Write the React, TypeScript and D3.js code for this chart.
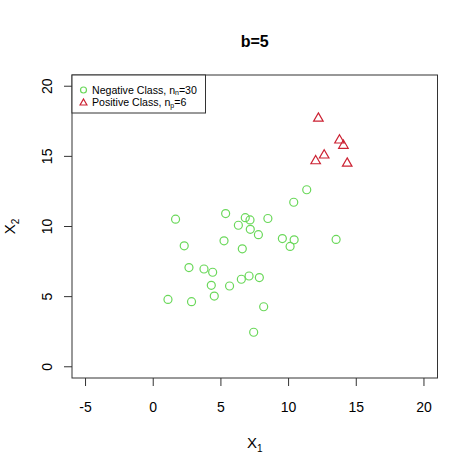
import React from "react";
import * as d3 from "d3";

const negX = [1.65, 5.35, 6.80, 7.15, 8.47, 6.29, 7.17, 7.77, 9.54, 10.11, 2.29, 5.23, 6.58, 2.64, 3.75, 4.39, 4.29, 5.64, 6.51, 7.08, 7.84, 1.09, 2.83, 4.51, 8.16, 7.42, 10.41, 11.34, 10.38, 13.51];
const negY = [10.52, 10.92, 10.63, 10.47, 10.57, 10.09, 9.80, 9.42, 9.14, 8.58, 8.62, 8.98, 8.41, 7.07, 6.97, 6.74, 5.81, 5.76, 6.24, 6.47, 6.36, 4.80, 4.64, 5.04, 4.28, 2.46, 9.05, 12.62, 11.73, 9.08];
const posX = [12.20, 13.76, 14.05, 12.63, 12.00, 14.33];
const posY = [17.71, 16.15, 15.77, 15.08, 14.67, 14.50];
const xTicks = [-5, 0, 5, 10, 15, 20];
const yTicks = [0, 5, 10, 15, 20];

const W = 474, H = 474;
const left = 72, right = 437.5, top = 75, bottom = 378;
const green = "#6ad85a";
const red = "#cc2233";

export default function App() {
  const x = d3.scaleLinear().domain([-6, 21]).range([left, right]);
  const y = d3.scaleLinear().domain([-0.8, 20.8]).range([bottom, top]);
  const r = 4;
  const tri = (cx: number, cy: number, s: number) => {
    const rr = s * 1.1;
    const xc = rr * Math.sqrt(3) / 2;
    const yc = rr / 2;
    return `M${cx},${cy - rr}L${cx + xc},${cy + yc}L${cx - xc},${cy + yc}Z`;
  };
  const font = "Liberation Sans, Arial, sans-serif";
  return (
    <svg width={W} height={H} style={{ position: "absolute", left: 0, top: 0 }} fontFamily={font}>
      <rect width={W} height={H} fill="white" />
      <text x={(left + right) / 2} y={47} textAnchor="middle" fontWeight="bold" fontSize={16}>b=5</text>
      <rect x={left} y={top} width={right - left} height={bottom - top} fill="none" stroke="#333" strokeWidth={1} />
      {xTicks.map((t) => (
        <g key={"x" + t}>
          <line x1={x(t)} x2={x(t)} y1={bottom} y2={bottom + 8} stroke="#333" />
          <text x={x(t)} y={bottom + 34} textAnchor="middle" fontSize={14}>{t}</text>
        </g>
      ))}
      {yTicks.map((t) => (
        <g key={"y" + t}>
          <line x1={left} x2={left - 8} y1={y(t)} y2={y(t)} stroke="#333" />
          <text transform={`translate(${left - 20},${y(t)}) rotate(-90)`} textAnchor="middle" fontSize={14}>{t}</text>
        </g>
      ))}
      <text x={(left + right) / 2} y={448} textAnchor="middle" fontSize={15}>
        X<tspan fontSize={10} dy={4}>1</tspan>
      </text>
      <text transform={`translate(15,${(top + bottom) / 2}) rotate(-90)`} textAnchor="middle" fontSize={15}>
        X<tspan fontSize={10} dy={4}>2</tspan>
      </text>
      {negX.map((v, i) => (
        <circle key={"n" + i} cx={x(v)} cy={y(negY[i])} r={r} fill="none" stroke={green} strokeWidth={1.2} />
      ))}
      {posX.map((v, i) => (
        <path key={"p" + i} d={tri(x(v), y(posY[i]), 5)} fill="none" stroke={red} strokeWidth={1.2} />
      ))}
      <rect x={left} y={top} width={133.5} height={38} fill="white" stroke="#333" />
      <circle cx={83.5} cy={90} r={3} fill="none" stroke={green} strokeWidth={1.2} />
      <text x={92} y={93.5} fontSize={10.6}>Negative Class, n<tspan fontSize={7} dy={1.5}>n</tspan><tspan dy={-1.5}>=30</tspan></text>
      <path d={tri(83.5, 103, 3.6)} fill="none" stroke={red} strokeWidth={1.2} />
      <text x={92} y={106} fontSize={10.6}>Positive Class, n<tspan fontSize={7} dy={1.5}>p</tspan><tspan dy={-1.5}>=6</tspan></text>
    </svg>
  );
}
